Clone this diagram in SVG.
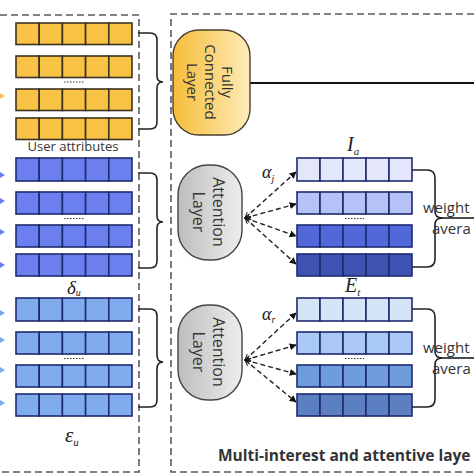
<svg xmlns="http://www.w3.org/2000/svg" width="474" height="474" viewBox="0 0 474 474">
<defs>
<style>
.frame{fill:none;stroke:#5a5a5a;stroke-width:1.6;stroke-dasharray:7,4}
.y{fill:#f8c244;stroke:#3c3222;stroke-width:1.6}
.b{fill:#6b80ee;stroke:#1e2b6e;stroke-width:1.6}
.lb{fill:#80acef;stroke:#1e2b6e;stroke-width:1.6}
.i1{fill:#e4e7fb;stroke:#1e2b6e;stroke-width:1.6}
.i2{fill:#b6c1f5;stroke:#1e2b6e;stroke-width:1.6}
.i3{fill:#5068d8;stroke:#1e2b6e;stroke-width:1.6}
.i4{fill:#3e52b2;stroke:#1e2b6e;stroke-width:1.6}
.j1{fill:#d6e4f8;stroke:#1e2b6e;stroke-width:1.6}
.j2{fill:#a9c9f4;stroke:#1e2b6e;stroke-width:1.6}
.j3{fill:#6f9cdd;stroke:#1e2b6e;stroke-width:1.6}
.j4{fill:#5b7fc0;stroke:#1e2b6e;stroke-width:1.6}
.brace{fill:none;stroke:#222;stroke-width:1.6}
.dash{fill:none;stroke:#222;stroke-width:1.4;stroke-dasharray:5,3;marker-end:url(#ah);marker-start:url(#open)}
.dots{fill:none;stroke:#333;stroke-width:1.2;stroke-dasharray:1.5,1.5}
.lbl{font-family:'Open Sans','Liberation Sans',sans-serif;fill:#333}
.math{font-family:'Liberation Serif',serif;font-style:italic;fill:#222}
</style>
<linearGradient id="gy" x1="0" y1="0" x2="1" y2="0"><stop offset="0" stop-color="#f7bd3a"/><stop offset="1" stop-color="#fdebb8"/></linearGradient>
<linearGradient id="gg" x1="0" y1="0" x2="1" y2="0"><stop offset="0" stop-color="#bdbdbd"/><stop offset="1" stop-color="#eeeeee"/></linearGradient>
<marker id="ah" viewBox="0 0 10 10" refX="9" refY="5" markerWidth="7" markerHeight="7" orient="auto" markerUnits="userSpaceOnUse"><path d="M0,0 L10,5 L0,10 z" fill="#111"/></marker>
<marker id="open" viewBox="0 0 10 10" refX="1" refY="5" markerWidth="7" markerHeight="7" orient="auto" markerUnits="userSpaceOnUse"><path d="M9,1 L1,5 L9,9" fill="none" stroke="#111" stroke-width="1.4"/></marker>
</defs>
<rect width="474" height="474" fill="#fff"/>

<!-- frames -->
<path class="frame" d="M0,15 H139 V472 H0"/>
<path class="frame" d="M474,14 H171 V472 H474"/>

<!-- left input arrows -->
<g id="input-arrows">
<path d="M0,93 L5,96 L0,99 z" fill="#f5c04a"/>
<path d="M0,172 L5,175 L0,178 z" fill="#6a80ee"/>
<path d="M0,198 L5,201 L0,204 z" fill="#6a80ee"/>
<path d="M0,229 L5,232 L0,235 z" fill="#6a80ee"/>
<path d="M0,262 L5,265 L0,268 z" fill="#6a80ee"/>
<path d="M0,310 L5,313 L0,316 z" fill="#7aaaee"/>
<path d="M0,337 L5,340 L0,343 z" fill="#7aaaee"/>
<path d="M0,367 L5,370 L0,373 z" fill="#7aaaee"/>
<path d="M0,400 L5,403 L0,406 z" fill="#7aaaee"/>
</g>

<!-- user attributes -->
<g id="user-attributes">
<g class="y">
<rect x="16" y="23" width="23.2" height="21.5"/><rect x="39.2" y="23" width="23.2" height="21.5"/><rect x="62.4" y="23" width="23.2" height="21.5"/><rect x="85.6" y="23" width="23.2" height="21.5"/><rect x="108.8" y="23" width="23.2" height="21.5"/>
<rect x="16" y="56" width="23.2" height="21.5"/><rect x="39.2" y="56" width="23.2" height="21.5"/><rect x="62.4" y="56" width="23.2" height="21.5"/><rect x="85.6" y="56" width="23.2" height="21.5"/><rect x="108.8" y="56" width="23.2" height="21.5"/>
<rect x="16" y="89" width="23.2" height="21.5"/><rect x="39.2" y="89" width="23.2" height="21.5"/><rect x="62.4" y="89" width="23.2" height="21.5"/><rect x="85.6" y="89" width="23.2" height="21.5"/><rect x="108.8" y="89" width="23.2" height="21.5"/>
<rect x="16" y="118" width="23.2" height="21.5"/><rect x="39.2" y="118" width="23.2" height="21.5"/><rect x="62.4" y="118" width="23.2" height="21.5"/><rect x="85.6" y="118" width="23.2" height="21.5"/><rect x="108.8" y="118" width="23.2" height="21.5"/>
</g>
<line class="dots" x1="64" y1="82" x2="85" y2="82"/>
<text class="lbl" x="73" y="151" font-size="13" text-anchor="middle" fill="#444">User attributes</text>
</g>

<!-- delta_u -->
<g id="delta-u">
<g class="b">
<rect x="16" y="158" width="23.2" height="23"/><rect x="39.2" y="158" width="23.2" height="23"/><rect x="62.4" y="158" width="23.2" height="23"/><rect x="85.6" y="158" width="23.2" height="23"/><rect x="108.8" y="158" width="23.2" height="23"/>
<rect x="16" y="192" width="23.2" height="22"/><rect x="39.2" y="192" width="23.2" height="22"/><rect x="62.4" y="192" width="23.2" height="22"/><rect x="85.6" y="192" width="23.2" height="22"/><rect x="108.8" y="192" width="23.2" height="22"/>
<rect x="16" y="225" width="23.2" height="22"/><rect x="39.2" y="225" width="23.2" height="22"/><rect x="62.4" y="225" width="23.2" height="22"/><rect x="85.6" y="225" width="23.2" height="22"/><rect x="108.8" y="225" width="23.2" height="22"/>
<rect x="16" y="254" width="23.2" height="22"/><rect x="39.2" y="254" width="23.2" height="22"/><rect x="62.4" y="254" width="23.2" height="22"/><rect x="85.6" y="254" width="23.2" height="22"/><rect x="108.8" y="254" width="23.2" height="22"/>
</g>
<line class="dots" x1="64" y1="218.5" x2="85" y2="218.5"/>
<text class="math" x="67" y="294" font-size="19">δ<tspan font-size="10" dy="2">u</tspan></text>
</g>

<!-- epsilon_u -->
<g id="epsilon-u">
<g class="lb">
<rect x="16" y="298" width="23.2" height="23"/><rect x="39.2" y="298" width="23.2" height="23"/><rect x="62.4" y="298" width="23.2" height="23"/><rect x="85.6" y="298" width="23.2" height="23"/><rect x="108.8" y="298" width="23.2" height="23"/>
<rect x="16" y="332" width="23.2" height="22"/><rect x="39.2" y="332" width="23.2" height="22"/><rect x="62.4" y="332" width="23.2" height="22"/><rect x="85.6" y="332" width="23.2" height="22"/><rect x="108.8" y="332" width="23.2" height="22"/>
<rect x="16" y="365" width="23.2" height="22"/><rect x="39.2" y="365" width="23.2" height="22"/><rect x="62.4" y="365" width="23.2" height="22"/><rect x="85.6" y="365" width="23.2" height="22"/><rect x="108.8" y="365" width="23.2" height="22"/>
<rect x="16" y="394" width="23.2" height="22"/><rect x="39.2" y="394" width="23.2" height="22"/><rect x="62.4" y="394" width="23.2" height="22"/><rect x="85.6" y="394" width="23.2" height="22"/><rect x="108.8" y="394" width="23.2" height="22"/>
</g>
<line class="dots" x1="64" y1="358.5" x2="85" y2="358.5"/>
<text class="math" x="65" y="442" font-size="21">ε<tspan font-size="11" dy="4">u</tspan></text>
</g>

<!-- connectors -->
<g id="connectors">
<path class="brace" d="M138,33 H150 Q157,33 157,40 V76 Q157,82 163,82 Q157,82 157,88 V122 Q157,129 150,129 H138"/>
<path class="brace" d="M138,173 H150 Q157,173 157,180 V216 Q157,222 163,222 Q157,222 157,228 V261 Q157,268 150,268 H138"/>
<path class="brace" d="M138,309 H150 Q157,309 157,316 V355 Q157,362 163,362 Q157,362 157,369 V400 Q157,407 150,407 H138"/>
<line x1="250" y1="83" x2="474" y2="83" stroke="#111" stroke-width="2"/>
<path class="dash" d="M245,218 L296,172"/>
<path class="dash" d="M245,218 L296,204"/>
<path class="dash" d="M245,218 L296,236"/>
<path class="dash" d="M245,218 L296,264"/>
<path class="dash" d="M245,360 L296,313"/>
<path class="dash" d="M245,360 L296,345"/>
<path class="dash" d="M245,360 L296,374"/>
<path class="dash" d="M245,360 L296,402"/>
<path class="brace" d="M412,170 H427 Q435,170 435,178 V211 Q435,218 442,218 Q435,218 435,225 V259 Q435,267 427,267 H412"/>
<line x1="440" y1="218" x2="474" y2="218" stroke="#111" stroke-width="1.6"/>
<path class="brace" d="M412,309 H427 Q435,309 435,317 V351 Q435,358 442,358 Q435,358 435,365 V399 Q435,407 427,407 H412"/>
<line x1="440" y1="358" x2="474" y2="358" stroke="#111" stroke-width="1.6"/>
</g>

<!-- fully connected layer -->
<g id="fc-layer">
<rect x="173" y="30" width="77" height="105" rx="26" ry="26" fill="url(#gy)" stroke="#4a4030" stroke-width="1.4"/>
<g transform="translate(210,82) rotate(90)" class="lbl" font-size="15" text-anchor="middle" fill="#333">
<text x="0" y="-12">Fully</text>
<text x="0" y="5.5">Connected</text>
<text x="0" y="23">Layer</text>
</g>
</g>

<!-- attention layer 1 -->
<g id="attention-1">
<rect x="178" y="165" width="64" height="95" rx="30" ry="30" fill="url(#gg)" stroke="#444" stroke-width="1.4"/>
<g transform="translate(210,212) rotate(90)" class="lbl" font-size="16" text-anchor="middle" fill="#333">
<text x="0" y="-3">Attention</text>
<text x="0" y="17">Layer</text>
</g>
<text class="math" x="262" y="178" font-size="18">α<tspan font-size="10" dy="4">j</tspan></text>
</g>

<!-- attention layer 2 -->
<g id="attention-2">
<rect x="178" y="305" width="64" height="95" rx="30" ry="30" fill="url(#gg)" stroke="#444" stroke-width="1.4"/>
<g transform="translate(210,352) rotate(90)" class="lbl" font-size="16" text-anchor="middle" fill="#333">
<text x="0" y="-3">Attention</text>
<text x="0" y="17">Layer</text>
</g>
<text class="math" x="262" y="320" font-size="18">α<tspan font-size="10" dy="3">r</tspan></text>
</g>

<!-- I_a -->
<g id="I-a">
<g class="i1"><rect x="297" y="158" width="23" height="23"/><rect x="320" y="158" width="23" height="23"/><rect x="343" y="158" width="23" height="23"/><rect x="366" y="158" width="23" height="23"/><rect x="389" y="158" width="23" height="23"/></g>
<g class="i2"><rect x="297" y="192" width="23" height="22"/><rect x="320" y="192" width="23" height="22"/><rect x="343" y="192" width="23" height="22"/><rect x="366" y="192" width="23" height="22"/><rect x="389" y="192" width="23" height="22"/></g>
<g class="i3"><rect x="297" y="225" width="23" height="22"/><rect x="320" y="225" width="23" height="22"/><rect x="343" y="225" width="23" height="22"/><rect x="366" y="225" width="23" height="22"/><rect x="389" y="225" width="23" height="22"/></g>
<g class="i4"><rect x="297" y="254" width="23" height="22"/><rect x="320" y="254" width="23" height="22"/><rect x="343" y="254" width="23" height="22"/><rect x="366" y="254" width="23" height="22"/><rect x="389" y="254" width="23" height="22"/></g>
<line class="dots" x1="345" y1="218.5" x2="364" y2="218.5"/>
<text class="math" x="347" y="151" font-size="20">I<tspan font-size="11" dy="4">a</tspan></text>
</g>

<!-- E_t -->
<g id="E-t">
<g class="j1"><rect x="297" y="298" width="23" height="23"/><rect x="320" y="298" width="23" height="23"/><rect x="343" y="298" width="23" height="23"/><rect x="366" y="298" width="23" height="23"/><rect x="389" y="298" width="23" height="23"/></g>
<g class="j2"><rect x="297" y="332" width="23" height="22"/><rect x="320" y="332" width="23" height="22"/><rect x="343" y="332" width="23" height="22"/><rect x="366" y="332" width="23" height="22"/><rect x="389" y="332" width="23" height="22"/></g>
<g class="j3"><rect x="297" y="365" width="23" height="22"/><rect x="320" y="365" width="23" height="22"/><rect x="343" y="365" width="23" height="22"/><rect x="366" y="365" width="23" height="22"/><rect x="389" y="365" width="23" height="22"/></g>
<g class="j4"><rect x="297" y="394" width="23" height="22"/><rect x="320" y="394" width="23" height="22"/><rect x="343" y="394" width="23" height="22"/><rect x="366" y="394" width="23" height="22"/><rect x="389" y="394" width="23" height="22"/></g>
<line class="dots" x1="345" y1="358.5" x2="364" y2="358.5"/>
<text class="math" x="345" y="292" font-size="20">E<tspan font-size="11" dy="4">t</tspan></text>
</g>

<!-- weighted average labels -->
<g id="wavg-1">
<text class="lbl" x="423" y="213" font-size="15" fill="#222">weight</text>
<text class="lbl" x="432" y="234" font-size="15" fill="#222">avera</text>
</g>
<g id="wavg-2">
<text class="lbl" x="423" y="353" font-size="15" fill="#222">weight</text>
<text class="lbl" x="432" y="374" font-size="15" fill="#222">avera</text>
</g>

<text class="lbl" x="218" y="461" font-size="15.5" font-weight="bold" fill="#111">Multi-interest and attentive laye</text>
</svg>
